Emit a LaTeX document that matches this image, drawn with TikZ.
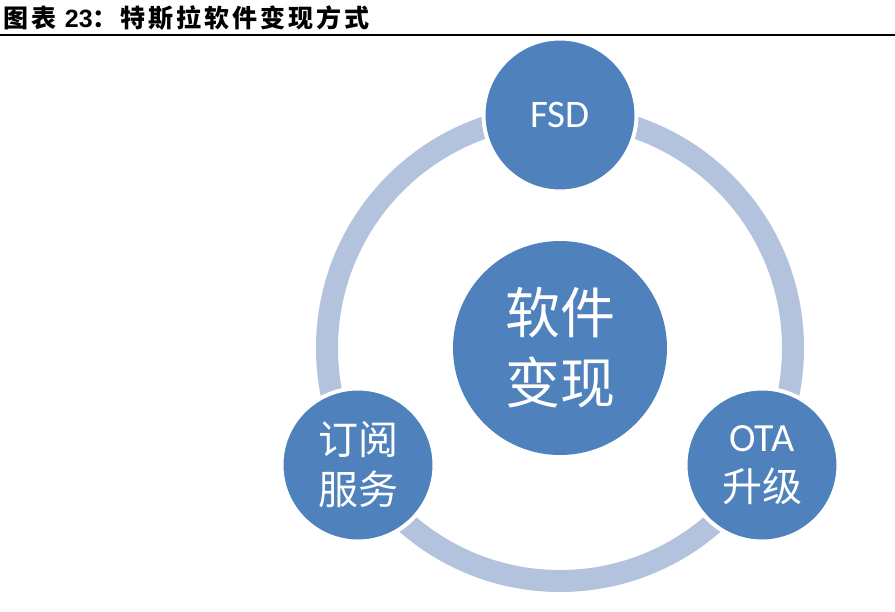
\documentclass[tikz,border=0pt]{standalone}
\usepackage{fontspec}
\setmainfont{Carlito}
\newfontfamily\cjk{Noto Sans CJK SC}
\newfontfamily\titlecjk{Noto Sans CJK SC}[LetterSpace=12]
\newfontfamily\arialfont{Liberation Sans}
\usetikzlibrary{positioning}
\definecolor{hubblue}{HTML}{4F81BD}
\definecolor{ringblue}{HTML}{B3C2DD}
\tikzset{
  hub/.style={circle, fill=hubblue, inner sep=0pt, minimum size=214pt,
    text=white, align=center, font=\cjk\fontsize{55}{70}\selectfont},
  sat/.style={circle, fill=hubblue, draw=white, line width=4pt, inner sep=0pt,
    minimum size=153pt, text=white, align=center, font=\cjk\fontsize{40}{50}\selectfont},
  ring/.style={draw=ringblue, line width=22pt}
}

\begin{document}
\begin{tikzpicture}[x=1pt, y=-1pt]
    \useasboundingbox (0,0) rectangle (895,611);

    % 标题
    \node[anchor=base west, inner sep=0pt] (title) at (3,27)
        {\titlecjk\bfseries\fontsize{25}{28}\selectfont 图表 {\arialfont\bfseries 23}：特斯拉软件变现方式};
    \draw[line width=2.5pt] (0,35) -- (895,35);

    % 外环
    \coordinate (c) at (560,348);
    \draw[ring] (c) circle (233);

    % 中心和三个方式
    \node[hub] (core) at (c) {软件\\变现};
    \node[sat] (fsd) at (560,115) {{\fontspec{Carlito}\fontsize{39}{50}\selectfont FSD}};
    \node[sat] (ota) at (762,465) {{\fontspec{Carlito}OTA}\\升级};
    \node[sat] (sub) at (358,465) {订阅\\服务};
\end{tikzpicture}
\end{document}
